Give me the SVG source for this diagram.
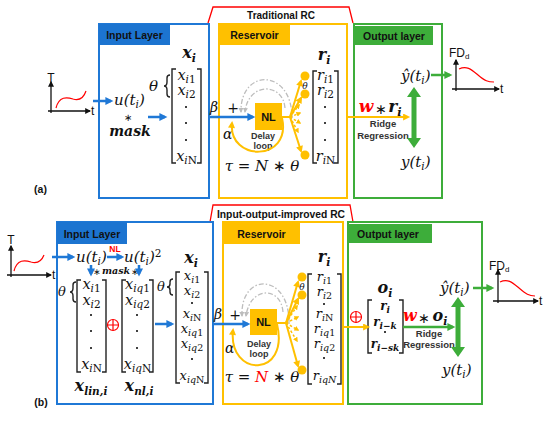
<svg xmlns="http://www.w3.org/2000/svg" width="550" height="421" viewBox="0 0 550 421">
<defs>
<style>
.bx{fill:none;stroke-width:2}
.hd{font-family:"Liberation Sans",Arial,sans-serif;font-weight:bold;font-size:10.5px;fill:#111;text-anchor:middle}
.m{font-family:"DejaVu Serif",serif;font-style:italic;font-size:14px;fill:#111}
.e{font-family:"DejaVu Serif",serif;font-style:italic;font-size:14.5px;fill:#111;text-anchor:middle}
.e2{font-family:"DejaVu Serif",serif;font-style:italic;font-size:13px;fill:#111;text-anchor:middle}
.vb{font-family:"DejaVu Serif",serif;font-style:italic;font-weight:bold;font-size:16px;fill:#111;text-anchor:middle}
.up{font-style:normal}
.st{font-family:"DejaVu Sans",sans-serif;font-style:normal;font-weight:normal}
.sm{font-family:"Liberation Sans",Arial,sans-serif;font-weight:bold;font-size:9px;fill:#333;text-anchor:middle}
.sn{font-family:"Liberation Sans",Arial,sans-serif;font-size:12px;fill:#111}
.br{fill:none;stroke:#222;stroke-width:1.4}
.ax{stroke:#111;stroke-width:1.3;fill:none}
.cv{stroke:#f00;stroke-width:1.2;fill:none}
.ab{stroke:#1F78D6;stroke-width:2.5;fill:none}
.ay{stroke:#FFC000;stroke-width:2;fill:none}
.ag{stroke:#3DAD3A;stroke-width:2.5;fill:none}
.dsh{stroke:#FFC000;stroke-width:1.5;stroke-dasharray:2.5 2;fill:none}
.gr{stroke:#BDBDBD;stroke-width:1.3;stroke-dasharray:5 2 1.5 2;fill:none}
.tab{fill:none;stroke:#f00;stroke-width:1.3}
.ci{fill:#FFC000}
.op{fill:none;stroke:#f00;stroke-width:1.2}
</style>
<marker id="mb" viewBox="0 0 10 10" refX="7" refY="5" markerWidth="9" markerHeight="8" orient="auto" markerUnits="userSpaceOnUse"><path d="M0,0 L10,5 L0,10 z" fill="#1F78D6"/></marker>
<marker id="my" viewBox="0 0 10 10" refX="7" refY="5" markerWidth="8" markerHeight="7" orient="auto" markerUnits="userSpaceOnUse"><path d="M0,0 L10,5 L0,10 z" fill="#FFC000"/></marker>
<marker id="mys" viewBox="0 0 10 10" refX="7" refY="5" markerWidth="5" markerHeight="5" orient="auto" markerUnits="userSpaceOnUse"><path d="M0,0 L10,5 L0,10 z" fill="#FFC000"/></marker>
<marker id="mg" viewBox="0 0 10 10" refX="7" refY="5" markerWidth="9" markerHeight="8" orient="auto" markerUnits="userSpaceOnUse"><path d="M0,0 L10,5 L0,10 z" fill="#3DAD3A"/></marker>
<marker id="mk" viewBox="0 0 10 10" refX="8" refY="5" markerWidth="6" markerHeight="6" orient="auto" markerUnits="userSpaceOnUse"><path d="M0,0 L10,5 L0,10 z" fill="#111"/></marker>
<marker id="mgr" viewBox="0 0 10 10" refX="8" refY="5" markerWidth="5" markerHeight="5" orient="auto" markerUnits="userSpaceOnUse"><path d="M0,0 L10,5 L0,10 z" fill="#BDBDBD"/></marker>
</defs>
<rect width="550" height="421" fill="#fff"/>

<!-- ============ PANEL (a) ============ -->
<g id="tab-a"><path class="tab" d="M208,23 L213,7 H349 L353,23"/><text class="hd" x="281" y="19" style="font-size:10px">Traditional RC</text></g>

<g id="input-a">
<rect class="bx" x="99" y="24" width="110" height="174" stroke="#1F78D6"/>
<rect x="99" y="24" width="71" height="21" fill="#1C74D0"/>
<text class="hd" x="134.5" y="39">Input Layer</text>
<text class="m" x="114" y="105" style="font-size:15px">u(t<tspan dy="3" font-size="10.5">i</tspan><tspan dy="-3">)</tspan></text>
<text class="st" x="128" y="121" text-anchor="middle" font-size="10" fill="#111">∗</text>
<text class="vb" x="130" y="136" style="font-size:14px">mask</text>
<text class="vb" x="189" y="58">x<tspan dy="4" font-size="11">i</tspan></text>
<text class="m" x="149" y="91" style="font-size:15px">θ</text>
<path class="br" d="M170,75 q-3,0 -3,3 v4 q0,4 -3,4 q3,0 3,4 v4 q0,3 3,3"/>
<path class="br" d="M176,69 h-4 v94 h4 M197,69 h4 v94 h-4"/>
<text class="e" x="186.5" y="80">x<tspan dy="3" font-size="10.5">i<tspan class="up">1</tspan></tspan></text>
<text class="e" x="186.5" y="95">x<tspan dy="3" font-size="10.5">i<tspan class="up">2</tspan></tspan></text>
<circle cx="186" cy="107" r="1"/><circle cx="186" cy="123" r="1"/><circle cx="186" cy="140" r="1"/>
<text class="e" x="186.5" y="161">x<tspan dy="3" font-size="10.5">i<tspan class="up">N</tspan></tspan></text>
</g>

<g id="plot-T-a">
<path class="ax" d="M51,113 V82" marker-end="url(#mk)"/>
<path class="ax" d="M48,111 H90" marker-end="url(#mk)"/>
<text class="sn" x="51" y="82" text-anchor="middle">T</text>
<text class="sn" x="91" y="115">t</text>
<path class="cv" d="M56,108 C59,96 67,97 73,99 C80,101 84,97 86,91"/>
</g>

<g id="reservoir-a">
<rect class="bx" x="219" y="24" width="128" height="174" stroke="#FFC000"/>
<rect x="219" y="24" width="71" height="21" fill="#FFC000"/>
<text class="hd" x="254.5" y="39">Reservoir</text>
<text class="m" x="210" y="112">β</text>
<text class="m" x="233" y="113" text-anchor="middle" style="font-style:normal">+</text>
<rect x="255" y="103" width="27" height="27" fill="#FFC000"/>
<text class="hd" x="268.5" y="121" style="font-size:11px">NL</text>
<text class="m" x="223" y="139">α</text>
<text class="sm" x="263" y="139">Delay</text>
<text class="sm" x="263" y="149">loop</text>
<text class="m" x="262" y="171" text-anchor="middle" style="font-size:15px">τ = N <tspan class="st">∗</tspan> θ</text>
<path class="gr" d="M292,118 C292,68 240,68 241,112" marker-end="url(#mgr)"/>
<path class="gr" d="M285,108 C283,82 248,82 245,112" marker-end="url(#mgr)"/>
<path class="ay" d="M282,118 C292,162 228,162 232,123" marker-end="url(#my)"/>
<path class="ay" d="M282,117 H290"/>
<path class="ay" d="M290,117 L301,81" marker-end="url(#my)"/>
<path class="ay" d="M290,117 L301,98" marker-end="url(#my)"/>
<path class="ay" d="M290,117 L301,151" marker-end="url(#my)"/>
<path class="dsh" d="M290,117 L299,105" marker-end="url(#mys)"/>
<path class="dsh" d="M290,117 L300,113" marker-end="url(#mys)"/>
<path class="dsh" d="M290,117 L300,123" marker-end="url(#mys)"/>
<path class="dsh" d="M290,117 L298,132" marker-end="url(#mys)"/>
<circle class="ci" cx="305" cy="76" r="4.5"/><circle class="ci" cx="305" cy="94" r="4.5"/><circle class="ci" cx="305" cy="155" r="4.5"/>
<text class="m" x="305" y="89" text-anchor="middle" style="font-size:9px">θ</text>
<text class="vb" x="324" y="60">r<tspan dy="4" font-size="11">i</tspan></text>
<path class="br" d="M317,71 h-4 v92 h4 M334,71 h4 v92 h-4"/>
<text class="e" x="325.5" y="80">r<tspan dy="3" font-size="10.5">i<tspan class="up">1</tspan></tspan></text>
<text class="e" x="325.5" y="95">r<tspan dy="3" font-size="10.5">i<tspan class="up">2</tspan></tspan></text>
<circle cx="325" cy="107" r="1"/><circle cx="325" cy="123" r="1"/><circle cx="325" cy="140" r="1"/>
<text class="e" x="325.5" y="161">r<tspan dy="3" font-size="10.5">i<tspan class="up">N</tspan></tspan></text>
</g>

<g id="output-a">
<rect class="bx" x="354" y="24" width="88" height="174" stroke="#3DAD3A"/>
<rect x="355" y="26" width="78" height="19" fill="#3DAD3A"/>
<text class="hd" x="394" y="40">Output layer</text>
<text class="vb" x="366" y="112" style="fill:#f00;font-size:17px">w</text>
<text class="st" x="381" y="114" text-anchor="middle" font-size="14" fill="#111">∗</text>
<text class="vb" x="395" y="112" style="font-size:17px">r<tspan dy="4" font-size="11.5">i</tspan></text>
<text class="sm" x="383" y="127" style="font-size:9.5px">Ridge</text>
<text class="sm" x="383" y="139" style="font-size:9.5px">Regression</text>
<text class="m" x="401" y="81" style="font-size:15px">ŷ(t<tspan dy="3" font-size="10.5">i</tspan><tspan dy="-3">)</tspan></text>
<text class="m" x="401" y="167" style="font-size:15px">y(t<tspan dy="3" font-size="10.5">i</tspan><tspan dy="-3">)</tspan></text>
<polygon points="414,87 421,97 416.5,97 416.5,138 421,138 414,148 407,138 411.5,138 411.5,97 407,97" fill="#3DAD3A"/>
</g>

<g id="plot-FD-a">
<path class="ax" d="M456,91 V60" marker-end="url(#mk)"/>
<path class="ax" d="M452,89 H499" marker-end="url(#mk)"/>
<text class="sn" x="449" y="57">FD<tspan font-size="8" dy="2">d</tspan></text>
<text class="sn" x="500" y="93">t</text>
<path class="cv" d="M459,69 C467,65 472,70 478,75 C485,81 488,82 494,82"/>
</g>
<text class="hd" x="40.5" y="193" style="font-size:10.5px">(a)</text>

<g id="connectors-a">
<path class="ab" d="M93,101 H111" marker-end="url(#mb)"/>
<path class="ab" d="M148,117 H165" marker-end="url(#mb)"/>
<path class="ab" d="M209,117 H253" marker-end="url(#mb)"/>
<path class="ay" d="M347,117 H408" marker-end="url(#my)"/>
<path class="ag" d="M431,75 H450" marker-end="url(#mg)"/>
</g>

<!-- ============ PANEL (b) ============ -->
<g id="tab-b"><path class="tab" d="M210,222 L213,205 H350 L353,222"/><text class="hd" x="281" y="218" style="font-size:10.3px">Input-output-improved RC</text></g>

<g id="input-b">
<rect class="bx" x="57" y="222" width="156" height="182" stroke="#1F78D6"/>
<rect x="57" y="222" width="70" height="22" fill="#1C74D0"/>
<text class="hd" x="92" y="238">Input Layer</text>
<text class="m" x="76" y="262" style="font-size:15px">u(t<tspan dy="3" font-size="10.5">i</tspan><tspan dy="-3">)</tspan></text>
<text class="hd" x="115" y="252" style="font-size:8.5px;fill:#f00">NL</text>
<text class="m" x="124" y="262" style="font-size:15px">u(t<tspan dy="3" font-size="10.5">i</tspan><tspan dy="-3">)</tspan><tspan dy="-5" font-size="10.5" class="up">2</tspan></text>
<text class="st" x="97" y="275" font-size="9" fill="#111" text-anchor="middle">∗</text>
<text class="vb" x="116" y="274" style="font-size:9.5px">mask</text>
<text class="st" x="135" y="275" font-size="9" fill="#111" text-anchor="middle">∗</text>
<text class="vb" x="191" y="263">x<tspan dy="4" font-size="11">i</tspan></text>
<text class="m" x="58" y="296" style="font-size:13px">θ</text>
<path class="br" d="M76,282 q-3,0 -3,3 v3 q0,4 -3,4 q3,0 3,4 v3 q0,3 3,3"/>
<path class="br" d="M81,280 h-4 v92 h4 M102,280 h4 v92 h-4"/>
<text class="e" x="91.5" y="289">x<tspan dy="3" font-size="10.5">i<tspan class="up">1</tspan></tspan></text>
<text class="e" x="91.5" y="305">x<tspan dy="3" font-size="10.5">i<tspan class="up">2</tspan></tspan></text>
<circle cx="91" cy="315" r="1"/><circle cx="91" cy="331" r="1"/><circle cx="91" cy="348" r="1"/>
<text class="e" x="91.5" y="369">x<tspan dy="3" font-size="10.5">i<tspan class="up">N</tspan></tspan></text>
<text class="vb" x="91" y="391">x<tspan dy="4" font-size="10.5">lin,i</tspan></text>
<circle class="op" cx="113" cy="325" r="5.5"/><path class="op" d="M107.5,325 h11 M113,319.5 v11"/>
<path class="br" d="M126,280 h-4 v92 h4 M149,280 h4 v92 h-4"/>
<text class="e" x="137.5" y="289">x<tspan dy="3" font-size="10.5">iq<tspan class="up">1</tspan></tspan></text>
<text class="e" x="137.5" y="305">x<tspan dy="3" font-size="10.5">iq<tspan class="up">2</tspan></tspan></text>
<circle cx="137" cy="315" r="1"/><circle cx="137" cy="331" r="1"/><circle cx="137" cy="348" r="1"/>
<text class="e" x="137.5" y="369">x<tspan dy="3" font-size="10.5">iq<tspan class="up">N</tspan></tspan></text>
<text class="vb" x="139" y="391">x<tspan dy="4" font-size="10.5">nl,i</tspan></text>
<text class="m" x="157" y="291" style="font-size:13px">θ</text>
<path class="br" d="M173,279 q-3,0 -3,3 v2 q0,3 -3,3 q3,0 3,3 v2 q0,3 3,3"/>
<path class="br" d="M180,272 h-4 v111 h4 M204,272 h4 v111 h-4"/>
<text class="e2" x="192" y="280">x<tspan dy="3" font-size="9.5">i<tspan class="up">1</tspan></tspan></text>
<text class="e2" x="192" y="295">x<tspan dy="3" font-size="9.5">i<tspan class="up">2</tspan></tspan></text>
<circle cx="192" cy="303" r="1"/>
<text class="e2" x="192" y="318">x<tspan dy="3" font-size="9.5">i<tspan class="up">N</tspan></tspan></text>
<text class="e2" x="192" y="333">x<tspan dy="3" font-size="9.5">iq<tspan class="up">1</tspan></tspan></text>
<text class="e2" x="192" y="348">x<tspan dy="3" font-size="9.5">iq<tspan class="up">2</tspan></tspan></text>
<circle cx="192" cy="359" r="1"/>
<text class="e2" x="192" y="380">x<tspan dy="3" font-size="9.5">iq<tspan class="up">N</tspan></tspan></text>
</g>

<g id="plot-T-b">
<path class="ax" d="M11,277 V246" marker-end="url(#mk)"/>
<path class="ax" d="M7,275 H51" marker-end="url(#mk)"/>
<text class="sn" x="11" y="244" text-anchor="middle">T</text>
<text class="sn" x="52" y="279">t</text>
<path class="cv" d="M14,271 C17,259 25,260 31,262 C38,264 42,260 44,255"/>
</g>

<g id="reservoir-b">
<rect class="bx" x="223" y="222" width="120" height="182" stroke="#FFC000"/>
<rect x="223" y="222" width="77" height="22" fill="#FFC000"/>
<text class="hd" x="261.5" y="238">Reservoir</text>
<text class="m" x="214" y="319">β</text>
<text class="m" x="235" y="320" text-anchor="middle" style="font-style:normal">+</text>
<rect x="250" y="309" width="27" height="26" fill="#FFC000"/>
<text class="hd" x="263.5" y="326" style="font-size:11px">NL</text>
<text class="m" x="225" y="353">α</text>
<text class="sm" x="259" y="347">Delay</text>
<text class="sm" x="259" y="357">loop</text>
<text class="m" x="262" y="382" text-anchor="middle" style="font-size:15px">τ = <tspan fill="#f00">N</tspan> <tspan class="st">∗</tspan> θ</text>
<path class="gr" d="M289,324 C290,272 240,272 242,316" marker-end="url(#mgr)"/>
<path class="gr" d="M283,312 C281,286 250,286 246,316" marker-end="url(#mgr)"/>
<path class="ay" d="M277,324 C290,378 228,378 233,330" marker-end="url(#my)"/>
<path class="ay" d="M277,323 H286"/>
<path class="ay" d="M286,323 L298,282" marker-end="url(#my)"/>
<path class="ay" d="M286,323 L298,299" marker-end="url(#my)"/>
<path class="ay" d="M286,323 L298,366" marker-end="url(#my)"/>
<path class="dsh" d="M286,323 L297,306" marker-end="url(#mys)"/>
<path class="dsh" d="M286,323 L298,317" marker-end="url(#mys)"/>
<path class="dsh" d="M286,323 L298,330" marker-end="url(#mys)"/>
<path class="dsh" d="M286,323 L297,341" marker-end="url(#mys)"/>
<circle class="ci" cx="302" cy="277" r="4.5"/><circle class="ci" cx="302" cy="295" r="4.5"/><circle class="ci" cx="302" cy="370" r="4.5"/>
<text class="m" x="302" y="290" text-anchor="middle" style="font-size:9px">θ</text>
<text class="vb" x="324" y="262">r<tspan dy="4" font-size="11">i</tspan></text>
<path class="br" d="M312,274 h-4 v110 h4 M337,274 h4 v110 h-4"/>
<text class="e2" x="324.5" y="281">r<tspan dy="3" font-size="9.5">i<tspan class="up">1</tspan></tspan></text>
<text class="e2" x="324.5" y="296">r<tspan dy="3" font-size="9.5">i<tspan class="up">2</tspan></tspan></text>
<circle cx="324" cy="304" r="1"/>
<text class="e2" x="324.5" y="318">r<tspan dy="3" font-size="9.5">i<tspan class="up">N</tspan></tspan></text>
<text class="e2" x="324.5" y="333">r<tspan dy="3" font-size="9.5">iq<tspan class="up">1</tspan></tspan></text>
<text class="e2" x="324.5" y="348">r<tspan dy="3" font-size="9.5">iq<tspan class="up">2</tspan></tspan></text>
<circle cx="324" cy="358" r="1"/>
<text class="e2" x="324.5" y="380">r<tspan dy="3" font-size="9.5">iqN</tspan></text>
</g>

<g id="output-b">
<rect class="bx" x="348" y="222" width="134" height="182" stroke="#3DAD3A"/>
<rect x="349" y="224" width="83" height="19" fill="#3DAD3A"/>
<text class="hd" x="388" y="238">Output layer</text>
<circle class="op" cx="356" cy="317" r="5.5"/><path class="op" d="M350.5,317 h11 M356,311.5 v11"/>
<text class="vb" x="385" y="293">o<tspan dy="4" font-size="11">i</tspan></text>
<path class="br" d="M372,300 h-4 v53 h4 M399,300 h4 v53 h-4"/>
<text class="vb" x="385" y="310" style="font-size:12px">r<tspan dy="3" font-size="9">i</tspan></text>
<text class="vb" x="385" y="326" style="font-size:12px">r<tspan dy="3" font-size="9">i−k</tspan></text>
<circle cx="385" cy="332" r="1"/>
<text class="vb" x="385" y="348" style="font-size:12px">r<tspan dy="3" font-size="9">i−sk</tspan></text>
<text class="vb" x="410" y="321" style="fill:#f00;font-size:16px">w</text>
<text class="st" x="424" y="323" text-anchor="middle" font-size="14" fill="#111">∗</text>
<text class="vb" x="440" y="321" style="font-size:16px">o<tspan dy="4" font-size="11">i</tspan></text>
<text class="sm" x="429" y="337" style="font-size:9.5px">Ridge</text>
<text class="sm" x="429" y="348" style="font-size:9.5px">Regression</text>
<text class="m" x="440" y="293" style="font-size:15px">ŷ(t<tspan dy="3" font-size="10.5">i</tspan><tspan dy="-3">)</tspan></text>
<text class="m" x="442" y="375" style="font-size:15px">y(t<tspan dy="3" font-size="10.5">i</tspan><tspan dy="-3">)</tspan></text>
<polygon points="458,297 465,307 460.5,307 460.5,347 465,347 458,357 451,347 455.5,347 455.5,307 451,307" fill="#3DAD3A"/>
</g>

<g id="plot-FD-b">
<path class="ax" d="M498,303 V270" marker-end="url(#mk)"/>
<path class="ax" d="M493,301 H538" marker-end="url(#mk)"/>
<text class="sn" x="489" y="270">FD<tspan font-size="8" dy="2">d</tspan></text>
<text class="sn" x="539" y="305">t</text>
<path class="cv" d="M500,282 C508,278 513,283 519,288 C526,294 529,296 535,296"/>
</g>
<text class="hd" x="41" y="406" style="font-size:10.5px">(b)</text>

<g id="connectors-b">
<path class="ab" d="M52,257 H73" marker-end="url(#mb)"/>
<path class="ab" d="M107,257 H122" marker-end="url(#mb)"/>
<path class="ab" d="M91,265 V274" stroke-width="2" marker-end="url(#mb)"/>
<path class="ab" d="M139,265 V274" stroke-width="2" marker-end="url(#mb)"/>
<path class="ab" d="M155,324 H172" marker-end="url(#mb)"/>
<path class="ab" d="M213,324 H248" marker-end="url(#mb)"/>
<path class="ay" d="M342,327 H368" marker-end="url(#my)"/>
<path class="ag" d="M403,327 H453" stroke-width="2" marker-end="url(#mg)"/>
<path class="ag" d="M473,288 H492" marker-end="url(#mg)"/>
</g>
</svg>
